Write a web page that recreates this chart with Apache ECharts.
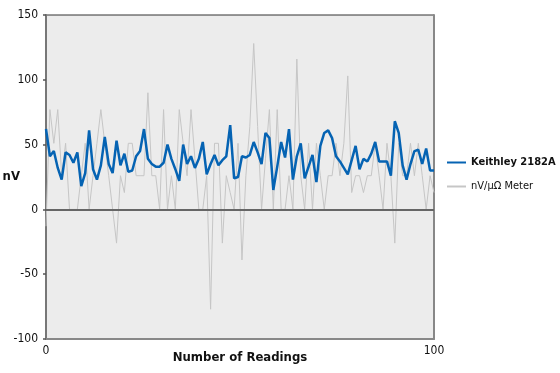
<!DOCTYPE html>
<html>
<head>
<meta charset="utf-8">
<script src="https://cdn.jsdelivr.net/npm/echarts@6/dist/echarts.min.js"></script>
<style>
  html, body { margin: 0; padding: 0; background: #fff; }
  #chart { width: 560px; height: 373px; }
</style>
</head>
<body>
<div id="chart"></div>
<script>
// reading numbers (categories) and the two end labels of the x axis
const readings = Array.from({ length: 100 }, (_, i) => String(i + 1));
const xTickLabels = ["0", "100"];

// Keithley 2182A, nV
const keithley = [
  62, 41, 45, 32, 23, 44, 42, 36, 44, 18,
  28, 61, 31, 23, 34, 56, 35, 28, 53, 34,
  43, 29, 30, 41, 45, 62, 39, 35, 33, 33,
  36, 50, 39, 31, 22, 50, 35, 41, 32, 39,
  52, 27, 35, 42, 34, 38, 41, 65, 24, 25,
  41, 40, 42, 52, 44, 35, 59, 55, 15, 33,
  52, 40, 62, 23, 41, 51, 24, 33, 42, 21,
  49, 59, 61, 55, 41, 37, 32, 27, 38, 49,
  31, 39, 37, 43, 52, 37, 37, 37, 26, 68,
  59, 34, 23, 35, 45, 46, 35, 47, 30, 30
];

// nV/μΩ Meter, nV
const meter = [
  -13, 77, 51, 77, 26, 51, 0, 0, 0, 26,
  51, 0, 26, 51, 77, 51, 26, 0, -26, 26,
  13, 51, 51, 26, 26, 26, 90, 26, 26, 0,
  77, 0, 26, 0, 77, 51, 26, 77, 39, 0,
  0, 26, -77, 51, 51, -26, 26, 13, 0, 51,
  -39, 26, 64, 128, 64, 0, 39, 77, 0, 77,
  0, 0, 26, 0, 116, 26, 0, 51, 0, 51,
  26, 0, 26, 26, 51, 26, 51, 103, 13, 26,
  26, 13, 26, 26, 51, 26, 0, 51, 26, -26,
  51, 26, 26, 51, 26, 51, 26, 0, 26, 13
];

const seriesNames = ["Keithley 2182A", "nV/\u03bc\u03a9 Meter"];
const lineColors = ["#0563b3", "#c6c6c6"];

const font = "'Liberation Sans Narrow', 'DejaVu Sans Condensed', 'Liberation Sans', sans-serif";

let chart = echarts.init(document.getElementById("chart"));
chart.setOption({
  animation: false,
  textStyle: { fontFamily: font },
  grid: {
    left: 46,
    right: 126,
    top: 15,
    bottom: 34,
    outerBoundsMode: "none",
    containLabel: false,
    show: true,
    backgroundColor: "#ececec",
    borderColor: "#333",
    borderWidth: 1
  },
  legend: {
    orient: "vertical",
    left: 447,
    top: 157,
    padding: 0,
    itemWidth: 19,
    itemHeight: 2,
    itemGap: 13,
    textStyle: { fontSize: 11, color: "#111", fontFamily: font },
    data: [
      { name: seriesNames[0], icon: "rect", itemStyle: { color: lineColors[0] }, textStyle: { fontWeight: "bold" } },
      { name: seriesNames[1], icon: "rect", itemStyle: { color: lineColors[1] } }
    ]
  },
  xAxis: {
    type: "category",
    data: readings,
    boundaryGap: false,
    name: "Number of Readings",
    nameLocation: "middle",
    nameGap: 12,
    nameMoveOverlap: false,
    nameTextStyle: { fontSize: 13, fontWeight: "bold", color: "#111", verticalAlign: "top" },
    axisLine: { onZero: false, lineStyle: { color: "#888", width: 2 } },
    axisTick: { show: false },
    axisLabel: {
      interval: 98,
      margin: 6,
      fontSize: 12,
      color: "#111",
      formatter: (v, idx) => (idx === 0 ? xTickLabels[0] : xTickLabels[1])
    },
    splitLine: { show: false }
  },
  yAxis: [
    {
      type: "value",
      min: -100,
      max: 150,
      interval: 50,
      name: "nV",
      nameLocation: "middle",
      nameRotate: 0,
      nameGap: 26,
      nameMoveOverlap: false,
      nameTextStyle: { fontSize: 13, fontWeight: "bold", color: "#111" },
      axisLine: { show: true, lineStyle: { color: "#777", width: 2 } },
      axisTick: { show: true, length: 3, lineStyle: { color: "#555", width: 1.5 } },
      axisLabel: { fontSize: 12, color: "#111", margin: 8 },
      splitLine: { show: false }
    },
    {
      type: "value",
      min: -100,
      max: 150,
      interval: 50,
      position: "right",
      axisLine: { show: true, lineStyle: { color: "#888", width: 2 } },
      axisTick: { show: false },
      axisLabel: { show: false },
      splitLine: { show: false }
    }
  ],
  color: lineColors,
  series: [
    {
      name: seriesNames[1],
      type: "line",
      data: meter,
      symbol: "none",
      z: 2,
      lineStyle: { width: 1, color: lineColors[1] },
      markLine: {
        silent: true,
        symbol: "none",
        label: { show: false },
        lineStyle: { color: "#666", width: 2, type: "solid" },
        data: [{ yAxis: 0 }]
      }
    },
    {
      name: seriesNames[0],
      type: "line",
      data: keithley,
      symbol: "none",
      z: 3,
      lineStyle: { width: 2.5, color: lineColors[0] }
    }
  ]
});
</script>
</body>
</html>
